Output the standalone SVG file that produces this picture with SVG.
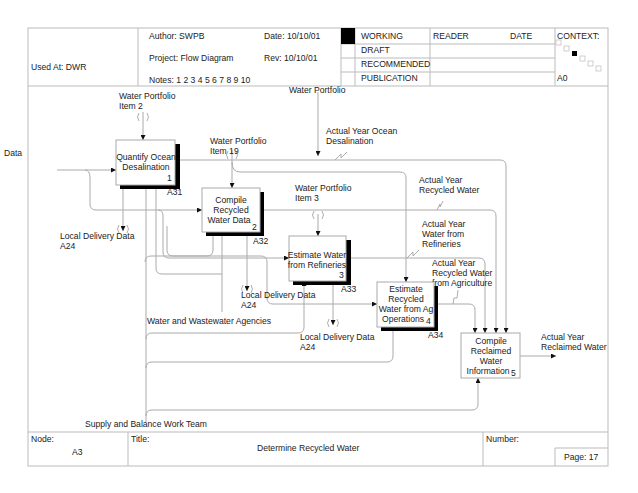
<svg xmlns="http://www.w3.org/2000/svg" width="638" height="493" viewBox="0 0 638 493">
<style>
text{font-family:"Liberation Sans",Arial,sans-serif;font-size:8.6px;fill:#222}
.f{fill:none;stroke:#bbb;stroke-width:1}
.c{fill:none;stroke:#aaa;stroke-width:1}
.b{fill:#fff;stroke:#aaa;stroke-width:1}
.s{fill:#000}
.t{fill:none;stroke:#999;stroke-width:0.8}
</style>
<defs>
<marker id="a" viewBox="0 0 6 6" refX="6" refY="3" markerWidth="5" markerHeight="5" orient="auto"><path d="M0,0L6,3L0,6z" fill="#111"/></marker>
</defs>
<rect x="0" y="0" width="638" height="493" fill="#fff"/>
<g id="frame">
<rect class="f" x="28" y="28" width="580" height="438"/>
<line class="f" x1="28" y1="86" x2="608" y2="86"/>
<line class="f" x1="28" y1="432" x2="608" y2="432"/>
<line class="f" x1="138" y1="28" x2="138" y2="86"/>
<line class="f" x1="341" y1="28" x2="341" y2="86"/>
<line class="f" x1="355" y1="28" x2="355" y2="86"/>
<line class="f" x1="430" y1="28" x2="430" y2="86"/>
<line class="f" x1="555" y1="28" x2="555" y2="86"/>
<line class="f" x1="341" y1="44" x2="555" y2="44"/>
<line class="f" x1="341" y1="58" x2="555" y2="58"/>
<line class="f" x1="341" y1="72" x2="555" y2="72"/>
<rect x="341" y="28" width="14" height="16" fill="#000"/>
<line class="f" x1="128" y1="432" x2="128" y2="466"/>
<line class="f" x1="483" y1="432" x2="483" y2="466"/>
<line class="f" x1="555" y1="448" x2="608" y2="448"/>
<line class="f" x1="555" y1="448" x2="555" y2="466"/>
<rect x="556" y="40" width="5" height="5" fill="none" stroke="#bbb" stroke-width="0.7"/>
<rect x="564" y="46" width="5" height="5" fill="none" stroke="#bbb" stroke-width="0.7"/>
<rect x="572" y="51" width="5" height="5" fill="#000"/>
<rect x="580" y="56" width="5" height="5" fill="none" stroke="#bbb" stroke-width="0.7"/>
<rect x="588" y="61" width="5" height="5" fill="none" stroke="#bbb" stroke-width="0.7"/>
<rect x="596" y="66" width="5" height="5" fill="none" stroke="#bbb" stroke-width="0.7"/>
<text x="149" y="39">Author: SWPB</text>
<text x="264" y="39">Date: 10/10/01</text>
<text x="149" y="61">Project: Flow Diagram</text>
<text x="264" y="61">Rev:  10/10/01</text>
<text x="149" y="83">Notes:  1 2 3 4 5 6 7 8 9 10</text>
<text x="31" y="70">Used At: DWR</text>
<text x="361" y="39">WORKING</text>
<text x="361" y="53">DRAFT</text>
<text x="361" y="67">RECOMMENDED</text>
<text x="361" y="81">PUBLICATION</text>
<text x="433" y="39">READER</text>
<text x="510" y="39">DATE</text>
<text x="557" y="39">CONTEXT:</text>
<text x="557" y="81">A0</text>
<text x="31" y="442">Node:</text>
<text x="72" y="455">A3</text>
<text x="131" y="442">Title:</text>
<text x="257" y="451">Determine Recycled Water</text>
<text x="486" y="442">Number:</text>
<text x="564" y="460">Page:  17</text>
</g>
<g id="connectors">
<path class="c" d="M57,170H116" marker-end="url(#a)"/>
<path class="c" d="M85,170Q90,170 90,178V204Q90,210 96,210H202" marker-end="url(#a)"/>
<path class="c" d="M158,210Q163,210 163,216V252Q163,258 169,258H289" marker-end="url(#a)"/>
<path class="c" d="M143,112V140" marker-end="url(#a)"/>
<path class="c" d="M175,160H500Q506,160 506,166V333" marker-end="url(#a)"/>
<path class="c" d="M318,92V156" marker-end="url(#a)"/>
<path class="c" d="M232,150V188" marker-end="url(#a)"/>
<path class="c" d="M232,162Q232,172 240,172H400Q406,172 406,178V282" marker-end="url(#a)"/>
<path class="c" d="M260,210H490Q496,210 496,216V333" marker-end="url(#a)"/>
<path class="c" d="M318,214V236" marker-end="url(#a)"/>
<path class="c" d="M346,258H479Q485,258 485,264V333" marker-end="url(#a)"/>
<path class="c" d="M434,304H469Q475,304 475,310V333" marker-end="url(#a)"/>
<path class="c" d="M520,356H556" marker-end="url(#a)"/>
<path class="c" d="M123,185V231" marker-end="url(#a)"/>
<path class="c" d="M247,232V291" marker-end="url(#a)"/>
<path class="c" d="M333,281V325" marker-end="url(#a)"/>
<path class="c" d="M145,262Q145,256 151,256H261Q267,256 267,262V298Q267,304 273,304H377" marker-end="url(#a)"/>
<path class="c" d="M146,185V422"/>
<path class="c" d="M146,416Q146,410 152,410H472Q478,410 478,404V378" marker-end="url(#a)"/>
<path class="c" d="M146,339Q146,333 152,333H298Q304,333 304,327V281" marker-end="url(#a)"/>
<path class="c" d="M146,368Q146,362 152,362H387Q393,362 393,356V326" marker-end="url(#a)"/>
<path class="c" d="M156,185V268Q156,274 162,274H222"/>
<path class="c" d="M222,232V312"/>
<path class="c" d="M213,232V250Q213,256 207,256H173Q167,256 167,250V226"/>
<path class="t" d="M139,113q-3,4 0,8M147,113q3,4 0,8"/>
<path class="t" d="M228,151q-3,4 0,8M236,151q3,4 0,8"/>
<path class="t" d="M314,211q-3,4 0,8M322,211q3,4 0,8"/>
<path class="t" d="M119,225q-3,4 0,8M127,225q3,4 0,8"/>
<path class="t" d="M243,285q-3,4 0,8M251,285q3,4 0,8"/>
<path class="t" d="M329,319q-3,4 0,8M337,319q3,4 0,8"/>
<path class="t" d="M335,160l6,-6v4l6,-6"/>
<path class="t" d="M437,210l3,-6v3l3,-6"/>
<path class="t" d="M407,258l6,-6v4l6,-6"/>
<path class="t" d="M453,304l1,-6h3l1,-8"/>
</g>
<g id="labels">
<text x="4" y="156">Data</text>
<text x="119" y="99">Water Portfolio</text>
<text x="119" y="109">Item 2</text>
<text x="289" y="93">Water Portfolio</text>
<text x="326" y="134">Actual Year Ocean</text>
<text x="326" y="144">Desalination</text>
<text x="210" y="144">Water Portfolio</text>
<text x="210" y="154">Item 19</text>
<text x="295" y="191">Water Portfolio</text>
<text x="295" y="201">Item 3</text>
<text x="419" y="183">Actual Year</text>
<text x="419" y="193">Recycled Water</text>
<text x="422" y="227">Actual Year</text>
<text x="422" y="237">Water from</text>
<text x="422" y="247">Refineries</text>
<text x="432" y="266">Actual Year</text>
<text x="432" y="276">Recycled Water</text>
<text x="432" y="286">from Agriculture</text>
<text x="60" y="239">Local Delivery Data</text>
<text x="60" y="249">A24</text>
<text x="241" y="298">Local Delivery Data</text>
<text x="241" y="308">A24</text>
<text x="300" y="340">Local Delivery Data</text>
<text x="300" y="350">A24</text>
<text x="147" y="324">Water and Wastewater Agencies</text>
<text x="85" y="427">Supply and Balance Work Team</text>
<text x="541" y="340">Actual Year</text>
<text x="541" y="350">Reclaimed Water</text>
</g>
<g id="box1">
<rect class="s" x="120" y="144" width="60" height="45"/>
<rect class="b" x="116" y="140" width="59" height="45"/>
<text x="146" y="160" text-anchor="middle">Quantify Ocean</text>
<text x="146" y="170" text-anchor="middle">Desalination</text>
<text x="167" y="181">1</text>
<text x="167" y="195">A31</text>
</g>
<g id="box2">
<rect class="s" x="206" y="192" width="58" height="44"/>
<rect class="b" x="202" y="188" width="58" height="44"/>
<text x="231" y="203" text-anchor="middle">Compile</text>
<text x="231" y="213" text-anchor="middle">Recycled</text>
<text x="229" y="223" text-anchor="middle">Water Data</text>
<text x="252" y="230">2</text>
<text x="253" y="244">A32</text>
</g>
<g id="box3">
<rect class="s" x="293" y="240" width="58" height="45"/>
<rect class="b" x="289" y="236" width="57" height="45"/>
<text x="317" y="258" text-anchor="middle">Estimate Water</text>
<text x="317" y="268" text-anchor="middle">from Refineries</text>
<text x="339" y="278">3</text>
<text x="341" y="292">A33</text>
</g>
<g id="box4">
<rect class="s" x="381" y="286" width="57" height="45"/>
<rect class="b" x="377" y="282" width="57" height="45"/>
<text x="406" y="292" text-anchor="middle">Estimate</text>
<text x="406" y="302" text-anchor="middle">Recycled</text>
<text x="406" y="312" text-anchor="middle">Water from Ag</text>
<text x="403" y="322" text-anchor="middle">Operations</text>
<text x="426" y="324">4</text>
<text x="428" y="338">A34</text>
</g>
<g id="box5">
<rect class="b" x="461" y="333" width="59" height="45"/>
<text x="491" y="344" text-anchor="middle">Compile</text>
<text x="491" y="354" text-anchor="middle">Reclaimed</text>
<text x="491" y="364" text-anchor="middle">Water</text>
<text x="488" y="374" text-anchor="middle">Information</text>
<text x="511" y="376">5</text>
</g>
</svg>
